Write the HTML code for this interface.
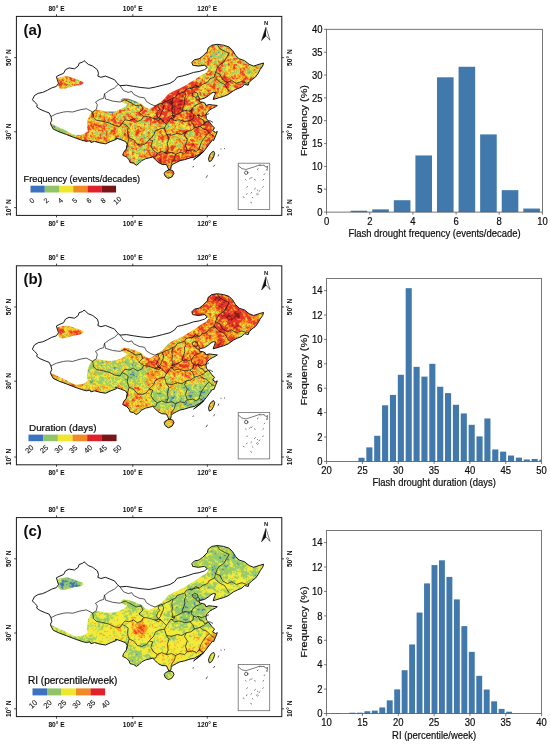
<!DOCTYPE html>
<html><head><meta charset="utf-8"><title>Flash drought characteristics over China</title>
<style>
html,body{margin:0;padding:0;background:#fff}
svg{display:block}
text{font-family:"Liberation Sans",sans-serif;fill:#1a1a1a}
.mt{font-size:6.6px;font-weight:bold;text-anchor:middle;fill:#0a0a0a}
.pl{font-size:15px;font-weight:bold;fill:#0c0c0c}
.cn{font-size:5.8px;font-weight:bold;text-anchor:middle;fill:#111}
.lt{font-size:9.2px;fill:#0c0c0c;stroke:#0c0c0c;stroke-width:.22px}
.ll{font-size:7.1px;text-anchor:middle;fill:#111;stroke:#111;stroke-width:.1px}
.tk{font-size:10.5px;fill:#0c0c0c;stroke:#0c0c0c;stroke-width:.2px}
.al{font-size:10.9px;fill:#0c0c0c;stroke:#0c0c0c;stroke-width:.2px}
</style></head><body>
<svg width="550" height="747" viewBox="0 0 550 747">
<defs>
<path id="outline" d="M32.4 99.7 L34.5 95.5 L38.2 93.3 L42.7 92.4 L47.3 90.3 L51.8 87.9 L56.4 86.4 L58.5 83.3 L57.3 79.7 L56.4 76.6 L59.1 75.2 L63.6 73.3 L65.5 69.7 L69.1 67.9 L74.5 68.8 L78.2 66.1 L79.1 63.3 L82.7 62.1 L84.0 60.6 L85.8 62.1 L88.2 64.3 L92.7 66.1 L97.3 69.7 L98.5 73.3 L97.8 76.1 L100.9 77.3 L105.5 76.1 L110.0 77.9 L114.5 79.7 L117.3 83.3 L120.0 85.7 L126.4 85.2 L133.6 86.4 L140.9 87.5 L149.1 88.3 L155.5 87.0 L162.7 85.2 L170.0 83.3 L174.5 80.6 L177.3 77.0 L181.8 76.1 L188.2 74.3 L193.6 72.4 L199.1 71.5 L204.5 69.7 L207.3 67.5 L204.5 65.2 L198.2 66.1 L192.7 65.2 L191.8 62.4 L194.5 59.7 L199.1 58.8 L202.7 56.1 L207.3 51.5 L208.2 47.9 L211.8 45.2 L217.3 44.3 L223.6 45.2 L229.1 47.0 L232.7 50.6 L235.5 55.2 L239.1 58.8 L244.5 60.6 L249.1 64.3 L253.6 66.1 L259.1 64.3 L263.6 63.0 L262.7 66.1 L260.0 69.7 L258.2 73.3 L255.5 77.0 L251.8 79.7 L249.1 82.4 L248.2 85.2 L244.5 84.3 L241.8 87.0 L237.3 88.8 L233.6 90.6 L228.2 94.5 L223.6 96.4 L219.1 97.7 L215.5 98.8 L213.2 99.5 L213.8 97.3 L215.0 94.5 L215.5 92.7 L213.2 92.3 L210.9 93.6 L208.2 95.9 L204.5 98.2 L200.9 99.1 L199.1 100.0 L199.5 101.8 L202.7 102.3 L205.0 103.2 L205.9 105.5 L209.1 104.5 L212.7 105.0 L217.3 105.5 L215.5 106.8 L212.7 108.2 L209.5 110.0 L207.3 112.3 L205.9 115.0 L206.4 118.8 L209.1 121.5 L211.8 125.2 L214.5 127.9 L212.7 130.6 L215.5 132.4 L217.3 131.5 L215.5 136.1 L213.6 140.6 L212.7 139.7 L209.1 144.3 L206.4 147.9 L203.6 151.5 L200.9 154.3 L197.3 157.0 L193.6 159.7 L203.6 151.5 L199.1 154.3 L194.5 157.0 L190.0 157.9 L184.5 159.7 L180.0 160.6 L176.4 162.4 L172.7 164.3 L171.3 166.0 L170.7 169.2 L168.9 170.0 L167.6 167.0 L166.4 164.6 L161.8 164.3 L158.2 162.4 L155.5 159.7 L152.7 157.0 L149.1 157.9 L145.5 158.8 L141.8 160.6 L139.1 163.3 L136.4 165.2 L133.6 163.3 L130.0 162.4 L129.1 159.7 L126.4 157.0 L122.7 155.2 L123.6 152.4 L126.4 148.8 L127.3 144.3 L125.5 141.5 L120.9 139.7 L115.5 137.9 L116.4 139.3 L110.9 141.4 L105.5 143.8 L100.0 142.9 L94.5 141.4 L90.9 142.5 L90.0 140.7 L86.4 141.4 L81.8 140.2 L76.4 138.3 L73.6 137.3 L66.4 134.5 L59.1 131.8 L53.2 129.0 L50.9 124.7 L50.5 122.9 L51.8 120.2 L50.9 116.5 L49.1 112.9 L45.5 111.6 L40.0 109.3 L36.7 106.9 L37.3 104.7 L34.5 102.0Z M213.6 151.2 L214.7 153.3 L213.6 157.0 L211.5 160.6 L209.3 161.7 L208.5 158.8 L209.6 155.2 L211.5 152.4Z M165.5 171.5 L169.1 169.7 L172.7 170.6 L174.0 173.3 L171.8 177.0 L168.2 178.4 L165.1 176.1 L164.2 173.3Z" fill="none" stroke="#0c0c14" stroke-width=".95" stroke-linejoin="round"/>
<clipPath id="clipcol"><path d="M50.5 122.9 L52.7 124.3 L57.3 126.7 L64.5 129.8 L70.9 133.4 L75.5 135.3 L82.7 134.5 L87.6 131.5 L87.0 127.0 L87.9 118.5 L91.5 111.9 L95.2 109.7 L99.5 110.0 L105.4 111.2 L111.2 111.6 L116.3 110.9 L120.6 109.0 L125.0 106.8 L127.2 104.6 L124.3 103.2 L121.4 101.7 L120.6 99.5 L123.5 98.4 L128.6 98.8 L133.0 100.3 L137.4 101.7 L141.7 103.9 L144.6 106.8 L149.0 109.0 L153.4 106.8 L157.7 103.9 L162.1 101.0 L168.2 94.3 L172.7 91.5 L179.1 88.8 L184.5 86.1 L190.0 82.4 L195.5 79.2 L200.9 75.2 L206.4 72.4 L208.5 68.8 L207.3 67.5 L204.5 65.2 L198.2 66.1 L192.7 65.2 L191.8 62.4 L194.5 59.7 L199.1 58.8 L202.7 56.1 L207.3 51.5 L208.2 47.9 L211.8 45.2 L217.3 44.3 L223.6 45.2 L229.1 47.0 L232.7 50.6 L235.5 55.2 L239.1 58.8 L244.5 60.6 L249.1 64.3 L253.6 66.1 L259.1 64.3 L263.6 63.0 L262.7 66.1 L260.0 69.7 L258.2 73.3 L255.5 77.0 L251.8 79.7 L249.1 82.4 L248.2 85.2 L244.5 84.3 L241.8 87.0 L237.3 88.8 L233.6 90.6 L228.2 94.5 L223.6 96.4 L219.1 97.7 L215.5 98.8 L213.2 99.5 L213.8 97.3 L215.0 94.5 L215.5 92.7 L213.2 92.3 L210.9 93.6 L208.2 95.9 L204.5 98.2 L200.9 99.1 L199.1 100.0 L199.5 101.8 L202.7 102.3 L205.0 103.2 L205.9 105.5 L209.1 104.5 L212.7 105.0 L217.3 105.5 L215.5 106.8 L212.7 108.2 L209.5 110.0 L207.3 112.3 L205.9 115.0 L206.4 118.8 L209.1 121.5 L211.8 125.2 L214.5 127.9 L212.7 130.6 L215.5 132.4 L217.3 131.5 L215.5 136.1 L213.6 140.6 L212.7 139.7 L209.1 144.3 L206.4 147.9 L203.6 151.5 L200.9 154.3 L197.3 157.0 L193.6 159.7 L203.6 151.5 L199.1 154.3 L194.5 157.0 L190.0 157.9 L184.5 159.7 L180.0 160.6 L176.4 162.4 L172.7 164.3 L171.3 166.0 L170.7 169.2 L168.9 170.0 L167.6 167.0 L166.4 164.6 L161.8 164.3 L158.2 162.4 L155.5 159.7 L152.7 157.0 L149.1 157.9 L145.5 158.8 L141.8 160.6 L139.1 163.3 L136.4 165.2 L133.6 163.3 L130.0 162.4 L129.1 159.7 L126.4 157.0 L122.7 155.2 L123.6 152.4 L126.4 148.8 L127.3 144.3 L125.5 141.5 L120.9 139.7 L115.5 137.9 L116.4 139.3 L110.9 141.4 L105.5 143.8 L100.0 142.9 L94.5 141.4 L90.9 142.5 L90.0 140.7 L86.4 141.4 L81.8 140.2 L76.4 138.3 L73.6 137.3 L66.4 134.5 L59.1 131.8 L53.2 129.0 L50.9 124.7 L50.5 122.9Z M57.3 77.9 L60.9 77.0 L67.3 76.1 L72.7 77.9 L78.2 79.7 L82.7 81.5 L83.6 83.3 L80.0 85.2 L74.5 86.1 L69.1 87.5 L64.5 88.8 L60.0 88.8 L58.2 86.1 L58.5 83.3 L57.3 79.7Z M213.6 151.2 L214.7 153.3 L213.6 157.0 L211.5 160.6 L209.3 161.7 L208.5 158.8 L209.6 155.2 L211.5 152.4Z M165.5 171.5 L169.1 169.7 L172.7 170.6 L174.0 173.3 L171.8 177.0 L168.2 178.4 L165.1 176.1 L164.2 173.3Z"/></clipPath>
<g id="prov" fill="none" stroke="#111" stroke-width=".7" stroke-linejoin="round"><path d="M217.3 44.6 L220.0 48.8 L225.5 51.5 L229.1 53.3 L226.4 57.9 L223.6 62.4 L219.1 65.2 L217.3 67.9 L215.5 72.4 M215.5 72.4 L220.0 74.3 L222.7 79.7 L227.3 82.4 L231.8 80.6 L236.4 83.3 L241.8 81.5 L246.4 83.3 L249.1 82.4 M215.5 72.4 L214.5 77.0 L210.0 78.8 L207.3 82.4 L202.7 84.3 L199.1 87.0 L195.5 85.2 L191.8 88.8 L189.3 88.2 M214.5 77.0 L219.1 81.5 L224.5 84.3 L227.3 88.8 L229.1 91.5 M159.3 104.0 L162.0 103.4 L165.3 101.8 L169.1 100.2 L171.8 98.5 L175.6 96.9 L177.3 94.2 L180.5 93.1 L184.4 92.0 L186.0 89.3 L189.3 88.2 L193.6 87.6 L196.9 86.5 L199.1 87.0 M172.9 98.5 L171.8 102.3 L172.4 106.7 L171.8 110.5 L172.9 113.8 L171.8 116.0 M184.9 92.0 L186.0 95.3 L184.4 98.5 L184.9 101.8 L183.8 105.6 L182.2 109.4 L182.7 111.1 L179.4 113.2 L175.6 114.9 L171.8 116.0 M182.7 111.1 L186.0 110.5 L189.8 111.1 L192.0 109.4 L193.6 106.7 L196.9 104.5 L200.2 103.4 L202.3 102.2 M192.0 109.4 L191.4 112.7 L193.6 114.9 L196.4 116.0 L198.0 114.9 L201.3 116.5 L204.5 115.4 L207.8 114.3 L209.0 113.4 M193.6 114.9 L193.1 118.7 L190.0 120.6 L192.7 123.3 L194.5 127.9 M171.8 116.0 L175.1 116.5 L172.5 118.3 L170.9 117.9 M192.0 93.6 L194.7 92.0 L197.4 93.1 L198.0 95.8 L199.6 98.0 L198.5 100.2 L196.4 99.1 L195.8 97.4 L193.1 96.3 L192.0 93.6 M195.8 97.4 L198.0 95.8 M159.3 104.0 L158.2 106.7 L159.8 109.4 L157.6 111.6 L156.5 114.9 L158.2 117.6 L160.4 115.4 L161.5 112.2 L163.1 109.4 L163.6 106.2 L162.0 103.4 M158.2 117.6 L160.9 118.7 L158.5 120.3 L154.5 118.8 M122.0 123.2 L125.5 124.8 L128.2 127.0 L127.3 132.4 L129.1 137.9 L127.3 144.3 L126.4 148.8 M122.0 123.2 L125.0 119.8 L129.1 120.6 L133.6 118.8 L137.3 121.5 L141.8 119.7 L143.6 116.1 L149.1 117.0 L154.5 118.8 L160.0 117.9 L166.4 124.3 M129.1 137.9 L133.6 139.7 L137.3 144.3 L141.8 145.2 L146.4 143.3 L149.1 139.7 L152.7 140.6 M149.1 139.7 L153.6 135.2 L155.5 130.6 L160.0 128.8 L164.5 127.9 L166.4 124.3 M152.7 140.6 L150.9 146.1 L153.6 150.6 L157.3 153.3 L155.5 157.0 L152.7 157.0 M157.3 153.3 L161.8 151.5 L166.4 153.3 L168.2 148.8 L167.3 143.3 L169.1 137.9 L166.4 134.3 L164.5 127.9 M166.4 153.3 L171.8 152.4 L175.5 154.3 L180.0 152.4 L184.5 153.3 L187.3 150.6 M175.5 154.3 L174.5 158.8 L171.8 162.4 L170.9 165.7 M187.3 150.6 L185.5 145.2 L187.3 139.7 L184.5 135.2 L186.4 131.5 M166.4 134.3 L171.8 135.2 L177.3 133.3 L181.8 134.3 L186.4 131.5 M187.3 150.6 L192.7 149.7 L196.4 151.5 L199.1 148.8 L203.6 151.5 M199.1 148.8 L200.9 143.3 L203.6 138.8 L206.4 135.2 L209.1 132.4 L212.0 135.3 L214.5 136.3 M209.1 132.4 L206.4 129.7 L202.7 128.8 L200.0 126.1 L203.6 124.3 L207.3 121.5 L210.0 120.6 L213.0 122.4 M186.4 131.5 L190.9 130.6 L194.5 127.9 L200.0 126.1 M190.0 120.6 L184.5 121.5 L179.1 119.7 L174.5 120.6 L170.9 117.9 L169.1 120.6 L166.4 124.3 M198.0 114.9 L199.5 118.3 L203.0 119.8 L204.5 122.3 L207.3 121.5 M92.7 112.0 L93.6 117.4 L96.4 120.2 L101.8 121.1 L109.1 122.9 L114.5 125.6 L120.0 126.5 L122.0 123.2 M104.5 93.8 L105.5 98.9 L112.7 101.1 L120.0 102.0 L125.0 99.8 L131.0 102.8 L136.0 105.8 L141.0 104.8 L143.0 108.8 L139.0 112.8 L143.6 116.1 M50.9 116.5 L56.4 113.8 L63.6 112.0 L67.3 111.6 L72.7 112.0 L80.0 109.8 L86.4 108.7 L92.7 112.0 M92.7 112.0 L96.4 109.3 L97.3 104.7 L95.5 102.0 L100.0 99.3 L103.6 98.3 L104.5 93.8 M118.2 84.3 L114.5 87.9 L109.1 90.6 L105.5 93.3 L104.5 93.8 M120.0 85.7 L123.6 90.6 L128.2 92.4 L131.8 91.5 L133.6 94.3 L139.1 97.0 L144.5 97.9 L146.4 101.5 L150.9 104.3 L155.0 105.8 L159.3 104.0 M218.0 156.3 L218.8 154.3 M213.5 166.8 L214.8 164.8 M206.0 177.8 L207.5 175.3 M192.5 167.0 L194.0 166.4 M220.5 148.8 L221.5 149.2 M224.0 148.4 L225.0 148.8"/></g>
<g id="inset" fill="none" stroke="#222" stroke-linecap="round"><path d="M238.6 165.9 L241.8 168.6 L245.9 169.5 L250.0 168.2 L254.5 166.8 L260.0 164.8 M259.5 165.5L264 165.2 M264.1 165.5l2.3 1.8l.9-1.4l.2 2.8l-1 1.4 M245.5 179.5l0.6 0.5 M249.5 178.8l0.9 -0.8 M251.4 178.2l0.6 -0.8 M254.4 179.4l0.9 0.5 M246.8 187.3l0.6 -0.8 M254.5 189.1l0.9 -0.8 M257.3 190.0l0.6 0.5 M259.1 191.4l0.9 -0.8 M262.7 187.3l0.6 -0.8 M243.2 196.8l0.9 0.5 M246.4 194.5l0.6 -0.8 M250.9 193.2l0.9 -0.8 M252.3 197.3l0.6 0.5 M256.4 194.1l0.9 -0.8 M257.7 195.0l0.6 -0.8 M250.7 202.3l0.9 0.5 M264.1 174.5l0.6 -0.8 M262.9 180.0l0.9 -0.8 M266.8 169.5l0.6 0.5 M257.3 169.5l0.9 -0.8" stroke-width=".6"/><circle cx="246.2" cy="172.7" r="1.7" stroke-width=".7"/></g>
<filter id="fa" filterUnits="userSpaceOnUse" x="0" y="0" width="300" height="747" color-interpolation-filters="sRGB">
<feTurbulence type="fractalNoise" baseFrequency="0.5" numOctaves="2" seed="3" result="n"/>
<feColorMatrix in="n" type="matrix" values="1 0 0 0 0  1 0 0 0 0  1 0 0 0 0  0 0 0 0 1" result="ng"/>
<feTurbulence type="fractalNoise" baseFrequency="0.17" numOctaves="2" seed="23" result="m"/>
<feColorMatrix in="m" type="matrix" values="0 1 0 0 0  0 1 0 0 0  0 1 0 0 0  0 0 0 0 1" result="mg"/>
<feGaussianBlur in="SourceGraphic" stdDeviation="3" result="base"/>
<feComposite in="base" in2="mg" operator="arithmetic" k1="0" k2="1" k3="0.75" k4="-0.375" result="s1"/>
<feComposite in="s1" in2="ng" operator="arithmetic" k1="0" k2="1" k3="1.0" k4="-0.5" result="sum"/>
<feComponentTransfer in="sum"><feFuncR type="discrete" tableValues="0.231 0.231 0.588 0.588 0.588 0.588 0.588 0.588 0.588 0.588 0.588 0.588 0.588 0.588 0.588 0.588 0.953 0.953 0.953 0.953 0.953 0.953 0.965 0.965 0.965 0.965 0.965 0.965 0.965 0.914 0.914 0.914 0.914 0.914 0.914 0.914 0.914 0.914 0.914 0.914 0.914 0.914 0.914 0.914 0.541 0.541 0.541 0.541 0.541 0.541"/><feFuncG type="discrete" tableValues="0.435 0.435 0.796 0.796 0.796 0.796 0.796 0.796 0.796 0.796 0.796 0.796 0.796 0.796 0.796 0.796 0.925 0.925 0.925 0.925 0.925 0.925 0.596 0.596 0.596 0.596 0.596 0.596 0.596 0.200 0.200 0.200 0.200 0.200 0.200 0.200 0.200 0.200 0.200 0.200 0.200 0.200 0.200 0.200 0.102 0.102 0.102 0.102 0.102 0.102"/><feFuncB type="discrete" tableValues="0.761 0.761 0.416 0.416 0.416 0.416 0.416 0.416 0.416 0.416 0.416 0.416 0.416 0.416 0.416 0.416 0.220 0.220 0.220 0.220 0.220 0.220 0.122 0.122 0.122 0.122 0.122 0.122 0.122 0.165 0.165 0.165 0.165 0.165 0.165 0.165 0.165 0.165 0.165 0.165 0.165 0.165 0.165 0.165 0.094 0.094 0.094 0.094 0.094 0.094"/><feFuncA type="linear" slope="0" intercept="1"/></feComponentTransfer>
<feConvolveMatrix order="3" kernelMatrix="1 2 1 2 16 2 1 2 1" edgeMode="duplicate" preserveAlpha="true"/>
</filter>
<filter id="fb" filterUnits="userSpaceOnUse" x="0" y="0" width="300" height="747" color-interpolation-filters="sRGB">
<feTurbulence type="fractalNoise" baseFrequency="0.5" numOctaves="2" seed="7" result="n"/>
<feColorMatrix in="n" type="matrix" values="1 0 0 0 0  1 0 0 0 0  1 0 0 0 0  0 0 0 0 1" result="ng"/>
<feTurbulence type="fractalNoise" baseFrequency="0.17" numOctaves="2" seed="27" result="m"/>
<feColorMatrix in="m" type="matrix" values="0 1 0 0 0  0 1 0 0 0  0 1 0 0 0  0 0 0 0 1" result="mg"/>
<feGaussianBlur in="SourceGraphic" stdDeviation="3" result="base"/>
<feComposite in="base" in2="mg" operator="arithmetic" k1="0" k2="1" k3="0.62" k4="-0.31" result="s1"/>
<feComposite in="s1" in2="ng" operator="arithmetic" k1="0" k2="1" k3="0.78" k4="-0.39" result="sum"/>
<feComponentTransfer in="sum"><feFuncR type="discrete" tableValues="0.231 0.588 0.588 0.588 0.588 0.588 0.588 0.588 0.588 0.588 0.588 0.588 0.588 0.588 0.588 0.953 0.953 0.953 0.953 0.953 0.953 0.953 0.965 0.965 0.965 0.965 0.965 0.965 0.965 0.965 0.914 0.914 0.914 0.914 0.914 0.914 0.914 0.914 0.914 0.914 0.914 0.914 0.914 0.541 0.541 0.541 0.541 0.541 0.541 0.541"/><feFuncG type="discrete" tableValues="0.435 0.796 0.796 0.796 0.796 0.796 0.796 0.796 0.796 0.796 0.796 0.796 0.796 0.796 0.796 0.925 0.925 0.925 0.925 0.925 0.925 0.925 0.596 0.596 0.596 0.596 0.596 0.596 0.596 0.596 0.200 0.200 0.200 0.200 0.200 0.200 0.200 0.200 0.200 0.200 0.200 0.200 0.200 0.102 0.102 0.102 0.102 0.102 0.102 0.102"/><feFuncB type="discrete" tableValues="0.761 0.416 0.416 0.416 0.416 0.416 0.416 0.416 0.416 0.416 0.416 0.416 0.416 0.416 0.416 0.220 0.220 0.220 0.220 0.220 0.220 0.220 0.122 0.122 0.122 0.122 0.122 0.122 0.122 0.122 0.165 0.165 0.165 0.165 0.165 0.165 0.165 0.165 0.165 0.165 0.165 0.165 0.165 0.094 0.094 0.094 0.094 0.094 0.094 0.094"/><feFuncA type="linear" slope="0" intercept="1"/></feComponentTransfer>
<feConvolveMatrix order="3" kernelMatrix="1 2 1 2 16 2 1 2 1" edgeMode="duplicate" preserveAlpha="true"/>
</filter>
<filter id="fc" filterUnits="userSpaceOnUse" x="0" y="0" width="300" height="747" color-interpolation-filters="sRGB">
<feTurbulence type="fractalNoise" baseFrequency="0.5" numOctaves="2" seed="11" result="n"/>
<feColorMatrix in="n" type="matrix" values="1 0 0 0 0  1 0 0 0 0  1 0 0 0 0  0 0 0 0 1" result="ng"/>
<feTurbulence type="fractalNoise" baseFrequency="0.17" numOctaves="2" seed="31" result="m"/>
<feColorMatrix in="m" type="matrix" values="0 1 0 0 0  0 1 0 0 0  0 1 0 0 0  0 0 0 0 1" result="mg"/>
<feGaussianBlur in="SourceGraphic" stdDeviation="3" result="base"/>
<feComposite in="base" in2="mg" operator="arithmetic" k1="0" k2="1" k3="0.45" k4="-0.225" result="s1"/>
<feComposite in="s1" in2="ng" operator="arithmetic" k1="0" k2="1" k3="0.5" k4="-0.25" result="sum"/>
<feComponentTransfer in="sum"><feFuncR type="discrete" tableValues="0.231 0.231 0.231 0.231 0.588 0.588 0.588 0.588 0.588 0.588 0.588 0.588 0.588 0.588 0.588 0.953 0.953 0.953 0.953 0.953 0.953 0.953 0.953 0.953 0.953 0.953 0.965 0.965 0.965 0.965 0.965 0.965 0.965 0.914 0.914 0.914 0.914 0.914 0.914 0.914 0.914 0.914 0.914 0.914 0.914 0.914 0.914 0.914 0.914 0.914"/><feFuncG type="discrete" tableValues="0.435 0.435 0.435 0.435 0.796 0.796 0.796 0.796 0.796 0.796 0.796 0.796 0.796 0.796 0.796 0.925 0.925 0.925 0.925 0.925 0.925 0.925 0.925 0.925 0.925 0.925 0.596 0.596 0.596 0.596 0.596 0.596 0.596 0.200 0.200 0.200 0.200 0.200 0.200 0.200 0.200 0.200 0.200 0.200 0.200 0.200 0.200 0.200 0.200 0.200"/><feFuncB type="discrete" tableValues="0.761 0.761 0.761 0.761 0.416 0.416 0.416 0.416 0.416 0.416 0.416 0.416 0.416 0.416 0.416 0.220 0.220 0.220 0.220 0.220 0.220 0.220 0.220 0.220 0.220 0.220 0.122 0.122 0.122 0.122 0.122 0.122 0.122 0.165 0.165 0.165 0.165 0.165 0.165 0.165 0.165 0.165 0.165 0.165 0.165 0.165 0.165 0.165 0.165 0.165"/><feFuncA type="linear" slope="0" intercept="1"/></feComponentTransfer>
<feConvolveMatrix order="3" kernelMatrix="1 2 1 2 16 2 1 2 1" edgeMode="duplicate" preserveAlpha="true"/>
</filter>
</defs>
<rect width="550" height="747" fill="#fff"/>
<g transform="translate(0 0)">
<g clip-path="url(#clipcol)"><g filter="url(#fa)"><rect x="0" y="0" width="300" height="230" fill="rgb(115,115,115)"/><ellipse cx="109" cy="129" rx="18" ry="11" fill="rgb(120,120,120)"/><ellipse cx="88.5" cy="128" rx="3.5" ry="8" fill="rgb(163,163,163)"/><ellipse cx="132.7" cy="106" rx="12" ry="6" fill="rgb(92,92,92)"/><ellipse cx="149" cy="134.5" rx="10" ry="9" fill="rgb(92,92,92)"/><ellipse cx="134.5" cy="156" rx="10" ry="8" fill="rgb(97,97,97)"/><ellipse cx="174.5" cy="158" rx="24" ry="7" fill="rgb(163,163,163)"/><ellipse cx="178" cy="149" rx="8" ry="6" fill="rgb(102,102,102)"/><ellipse cx="192.7" cy="149" rx="8" ry="7" fill="rgb(153,153,153)"/><ellipse cx="203.6" cy="149" rx="6" ry="7" fill="rgb(133,133,133)"/><ellipse cx="181.8" cy="132.7" rx="11" ry="7" fill="rgb(102,102,102)"/><ellipse cx="189" cy="118" rx="9" ry="7" fill="rgb(163,163,163)"/><ellipse cx="201.8" cy="124.4" rx="8" ry="6" fill="rgb(178,178,178)"/><ellipse cx="209" cy="127" rx="4" ry="6" fill="rgb(199,199,199)"/><ellipse cx="205.5" cy="109" rx="8" ry="5" fill="rgb(128,128,128)"/><ellipse cx="193.5" cy="99" rx="7" ry="7" fill="rgb(120,120,120)"/><ellipse cx="172.7" cy="103.6" rx="12" ry="12" fill="rgb(199,199,199)"/><ellipse cx="161.8" cy="118" rx="10" ry="8" fill="rgb(153,153,153)"/><ellipse cx="185.5" cy="87" rx="14" ry="8" fill="rgb(163,163,163)"/><ellipse cx="214.5" cy="94.5" rx="8" ry="5" fill="rgb(117,117,117)"/><ellipse cx="232.7" cy="83.6" rx="12" ry="7" fill="rgb(138,138,138)"/><ellipse cx="236.4" cy="67" rx="12" ry="8" fill="rgb(107,107,107)"/><ellipse cx="227" cy="63.6" rx="5" ry="4" fill="rgb(153,153,153)"/><ellipse cx="218" cy="54.5" rx="11" ry="7" fill="rgb(76,76,76)"/><ellipse cx="254.5" cy="69" rx="8" ry="5" fill="rgb(87,87,87)"/><ellipse cx="165.5" cy="143.6" rx="8" ry="6" fill="rgb(115,115,115)"/><ellipse cx="150" cy="108" rx="9" ry="6" fill="rgb(148,148,148)"/><ellipse cx="82" cy="140" rx="14" ry="5" fill="rgb(122,122,122)" transform="rotate(20 82 140)"/><ellipse cx="62" cy="130.5" rx="13" ry="4" fill="rgb(31,31,31)" transform="rotate(22 62 130.5)"/><ellipse cx="70" cy="82" rx="13" ry="6" fill="rgb(122,122,122)"/></g></g>
<path d="M122 99L129 99.4L133.6 101.2L137 102.8M109 112.2L113.5 112.5" fill="none" stroke="#3a6cc4" stroke-width="0.9"/>
<use href="#prov"/>
<use href="#outline"/>
<rect x="16.4" y="16.4" width="265.4" height="199" fill="none" stroke="#1a1a1a" stroke-width="1"/>
<path d="M56.5 16.4v-2.2M56.5 215.2v2.2" stroke="#1a1a1a" stroke-width=".8"/>
<text x="56.5" y="10.6" class="mt">80° E</text>
<text x="56.5" y="225.6" class="mt">80° E</text>
<path d="M132.8 16.4v-2.2M132.8 215.2v2.2" stroke="#1a1a1a" stroke-width=".8"/>
<text x="132.8" y="10.6" class="mt">100° E</text>
<text x="132.8" y="225.6" class="mt">100° E</text>
<path d="M207.3 16.4v-2.2M207.3 215.2v2.2" stroke="#1a1a1a" stroke-width=".8"/>
<text x="207.3" y="10.6" class="mt">120° E</text>
<text x="207.3" y="225.6" class="mt">120° E</text>
<path d="M16.4 57.6h-2.2M281.8 57.6h2.2" stroke="#1a1a1a" stroke-width=".8"/>
<text transform="translate(10.6 57.6) rotate(-90)" class="mt">50° N</text>
<text transform="translate(292.4 57.6) rotate(-90)" class="mt">50° N</text>
<path d="M16.4 131.8h-2.2M281.8 131.8h2.2" stroke="#1a1a1a" stroke-width=".8"/>
<text transform="translate(10.6 131.8) rotate(-90)" class="mt">30° N</text>
<text transform="translate(292.4 131.8) rotate(-90)" class="mt">30° N</text>
<path d="M16.4 207.6h-2.2M281.8 207.6h2.2" stroke="#1a1a1a" stroke-width=".8"/>
<text transform="translate(10.6 207.6) rotate(-90)" class="mt">10° N</text>
<text transform="translate(292.4 207.6) rotate(-90)" class="mt">10° N</text>
<text x="23.4" y="35" class="pl">(a)</text>
<text x="266" y="25.3" class="cn">N</text>
<path d="M265.9 27.3L261.6 40.5L266.1 35.8L270 40.2Z" fill="#fff" stroke="#111" stroke-width=".55" stroke-linejoin="round"/><path d="M265.9 27.3L266.1 35.8L261.6 40.5Z" fill="#111"/>
<text x="23.6" y="182" class="lt" style="font-size:9.2px">Frequency (events/decades)</text>
<rect x="30.50" y="185.7" width="14.30" height="6.8" fill="#3d72c0"/>
<rect x="44.75" y="185.7" width="14.30" height="6.8" fill="#8fc468"/>
<rect x="59.00" y="185.7" width="14.30" height="6.8" fill="#f0e62e"/>
<rect x="73.25" y="185.7" width="14.30" height="6.8" fill="#f08a24"/>
<rect x="87.50" y="185.7" width="14.30" height="6.8" fill="#e0202a"/>
<rect x="101.75" y="185.7" width="14.30" height="6.8" fill="#7a1618"/>
<text transform="translate(33.5 202.3) rotate(-42)" class="ll" style="font-size:7.2px">0</text>
<text transform="translate(47.8 202.3) rotate(-42)" class="ll" style="font-size:7.2px">2</text>
<text transform="translate(62.0 202.3) rotate(-42)" class="ll" style="font-size:7.2px">4</text>
<text transform="translate(76.2 202.3) rotate(-42)" class="ll" style="font-size:7.2px">5</text>
<text transform="translate(90.5 202.3) rotate(-42)" class="ll" style="font-size:7.2px">6</text>
<text transform="translate(104.8 202.3) rotate(-42)" class="ll" style="font-size:7.2px">8</text>
<text transform="translate(119.0 202.3) rotate(-42)" class="ll" style="font-size:7.2px">10</text>
<rect x="238.2" y="163.2" width="31.5" height="46.3" fill="#fff" stroke="#6e6e6e" stroke-width=".8"/>
<use href="#inset"/>
</g>
<g transform="translate(0 249.4)">
<g clip-path="url(#clipcol)"><g filter="url(#fb)"><rect x="0" y="0" width="300" height="230" fill="rgb(107,107,107)"/><ellipse cx="226" cy="66" rx="34" ry="26" fill="rgb(153,153,153)"/><ellipse cx="233.6" cy="66.5" rx="9" ry="7" fill="rgb(224,224,224)"/><ellipse cx="219" cy="51" rx="7" ry="5" fill="rgb(194,194,194)"/><ellipse cx="225" cy="58" rx="6" ry="5" fill="rgb(184,184,184)"/><ellipse cx="212" cy="65" rx="5" ry="5" fill="rgb(102,102,102)"/><ellipse cx="248" cy="74" rx="5" ry="5" fill="rgb(107,107,107)"/><ellipse cx="241" cy="83" rx="4" ry="4" fill="rgb(87,87,87)"/><ellipse cx="254" cy="68" rx="7" ry="5" fill="rgb(153,153,153)"/><ellipse cx="236" cy="76" rx="5" ry="4" fill="rgb(184,184,184)"/><ellipse cx="221" cy="97" rx="10" ry="6" fill="rgb(153,153,153)"/><ellipse cx="206" cy="90" rx="9" ry="8" fill="rgb(128,128,128)"/><ellipse cx="196" cy="89" rx="14" ry="8" fill="rgb(128,128,128)"/><ellipse cx="196" cy="108" rx="12" ry="7" fill="rgb(148,148,148)"/><ellipse cx="174" cy="104" rx="12" ry="9" fill="rgb(122,122,122)"/><ellipse cx="153" cy="109" rx="10" ry="7" fill="rgb(153,153,153)"/><ellipse cx="108" cy="124" rx="24" ry="15" fill="rgb(76,76,76)"/><ellipse cx="116" cy="119" rx="18" ry="10" fill="rgb(74,74,74)"/><ellipse cx="102" cy="133" rx="14" ry="7" fill="rgb(76,76,76)"/><ellipse cx="135" cy="124" rx="11" ry="12" fill="rgb(51,51,51)"/><ellipse cx="127" cy="111" rx="8" ry="5" fill="rgb(76,76,76)"/><ellipse cx="156" cy="127" rx="6" ry="6" fill="rgb(115,115,115)"/><ellipse cx="160" cy="150" rx="12" ry="10" fill="rgb(56,56,56)"/><ellipse cx="186" cy="148" rx="24" ry="13" fill="rgb(51,51,51)"/><ellipse cx="178" cy="142" rx="5" ry="5" fill="rgb(84,84,84)"/><ellipse cx="208" cy="138" rx="7" ry="9" fill="rgb(51,51,51)"/><ellipse cx="136" cy="152" rx="10" ry="9" fill="rgb(122,122,122)"/><ellipse cx="124" cy="153" rx="3" ry="4" fill="rgb(178,178,178)"/><ellipse cx="150" cy="116" rx="8" ry="5" fill="rgb(153,153,153)"/><ellipse cx="162" cy="118.5" rx="8" ry="4" fill="rgb(153,153,153)"/><ellipse cx="176" cy="121" rx="8" ry="4.5" fill="rgb(153,153,153)"/><ellipse cx="188" cy="118" rx="9" ry="6" fill="rgb(168,168,168)"/><ellipse cx="200" cy="113" rx="8" ry="5" fill="rgb(153,153,153)"/><ellipse cx="171" cy="127.5" rx="6" ry="4" fill="rgb(97,97,97)"/><ellipse cx="205" cy="126" rx="6" ry="5" fill="rgb(82,82,82)"/><ellipse cx="168" cy="165" rx="14" ry="4" fill="rgb(102,102,102)"/><ellipse cx="80" cy="140" rx="16" ry="5" fill="rgb(128,128,128)" transform="rotate(20 80 140)"/><ellipse cx="70" cy="82" rx="13" ry="6" fill="rgb(153,153,153)"/><ellipse cx="169" cy="175" rx="5" ry="4" fill="rgb(115,115,115)"/></g></g>

<use href="#prov"/>
<use href="#outline"/>
<rect x="16.4" y="16.4" width="265.4" height="199" fill="none" stroke="#1a1a1a" stroke-width="1"/>
<path d="M56.5 16.4v-2.2M56.5 215.2v2.2" stroke="#1a1a1a" stroke-width=".8"/>
<text x="56.5" y="10.6" class="mt">80° E</text>
<text x="56.5" y="225.6" class="mt">80° E</text>
<path d="M132.8 16.4v-2.2M132.8 215.2v2.2" stroke="#1a1a1a" stroke-width=".8"/>
<text x="132.8" y="10.6" class="mt">100° E</text>
<text x="132.8" y="225.6" class="mt">100° E</text>
<path d="M207.3 16.4v-2.2M207.3 215.2v2.2" stroke="#1a1a1a" stroke-width=".8"/>
<text x="207.3" y="10.6" class="mt">120° E</text>
<text x="207.3" y="225.6" class="mt">120° E</text>
<path d="M16.4 57.6h-2.2M281.8 57.6h2.2" stroke="#1a1a1a" stroke-width=".8"/>
<text transform="translate(10.6 57.6) rotate(-90)" class="mt">50° N</text>
<text transform="translate(292.4 57.6) rotate(-90)" class="mt">50° N</text>
<path d="M16.4 131.8h-2.2M281.8 131.8h2.2" stroke="#1a1a1a" stroke-width=".8"/>
<text transform="translate(10.6 131.8) rotate(-90)" class="mt">30° N</text>
<text transform="translate(292.4 131.8) rotate(-90)" class="mt">30° N</text>
<path d="M16.4 207.6h-2.2M281.8 207.6h2.2" stroke="#1a1a1a" stroke-width=".8"/>
<text transform="translate(10.6 207.6) rotate(-90)" class="mt">10° N</text>
<text transform="translate(292.4 207.6) rotate(-90)" class="mt">10° N</text>
<text x="23.4" y="35" class="pl">(b)</text>
<text x="266" y="25.3" class="cn">N</text>
<path d="M265.9 27.3L261.6 40.5L266.1 35.8L270 40.2Z" fill="#fff" stroke="#111" stroke-width=".55" stroke-linejoin="round"/><path d="M265.9 27.3L266.1 35.8L261.6 40.5Z" fill="#111"/>
<text x="29.0" y="182" class="lt" style="font-size:9.9px">Duration (days)</text>
<rect x="28.50" y="185.2" width="14.72" height="6.6" fill="#3d72c0"/>
<rect x="43.17" y="185.2" width="14.72" height="6.6" fill="#8fc468"/>
<rect x="57.84" y="185.2" width="14.72" height="6.6" fill="#f0e62e"/>
<rect x="72.51" y="185.2" width="14.72" height="6.6" fill="#f08a24"/>
<rect x="87.18" y="185.2" width="14.72" height="6.6" fill="#e0202a"/>
<rect x="101.85" y="185.2" width="14.72" height="6.6" fill="#7a1618"/>
<text transform="translate(31.1 201.5) rotate(-42)" class="ll" style="font-size:7.4px">20</text>
<text transform="translate(45.8 201.5) rotate(-42)" class="ll" style="font-size:7.4px">25</text>
<text transform="translate(60.4 201.5) rotate(-42)" class="ll" style="font-size:7.4px">30</text>
<text transform="translate(75.1 201.5) rotate(-42)" class="ll" style="font-size:7.4px">35</text>
<text transform="translate(89.8 201.5) rotate(-42)" class="ll" style="font-size:7.4px">40</text>
<text transform="translate(104.4 201.5) rotate(-42)" class="ll" style="font-size:7.4px">45</text>
<text transform="translate(119.1 201.5) rotate(-42)" class="ll" style="font-size:7.4px">50</text>
<rect x="238.2" y="163.2" width="31.5" height="46.3" fill="#fff" stroke="#6e6e6e" stroke-width=".8"/>
<use href="#inset"/>
</g>
<g transform="translate(0 501.2)">
<g clip-path="url(#clipcol)"><g filter="url(#fc)"><rect x="0" y="0" width="300" height="230" fill="rgb(89,89,89)"/><ellipse cx="226" cy="62" rx="26" ry="18" fill="rgb(56,56,56)"/><ellipse cx="236" cy="76" rx="12" ry="7" fill="rgb(84,84,84)"/><ellipse cx="251" cy="68" rx="8" ry="5" fill="rgb(64,64,64)"/><ellipse cx="196" cy="88" rx="14" ry="8" fill="rgb(69,69,69)"/><ellipse cx="189" cy="105" rx="18" ry="13" fill="rgb(51,51,51)"/><ellipse cx="185" cy="117" rx="8" ry="5" fill="rgb(38,38,38)"/><ellipse cx="211" cy="108" rx="6" ry="4" fill="rgb(76,76,76)"/><ellipse cx="204" cy="121" rx="8" ry="6" fill="rgb(79,79,79)"/><ellipse cx="134" cy="105" rx="14" ry="7" fill="rgb(59,59,59)"/><ellipse cx="109" cy="121" rx="16" ry="7" fill="rgb(71,71,71)"/><ellipse cx="102" cy="134" rx="12" ry="5" fill="rgb(107,107,107)"/><ellipse cx="140" cy="128" rx="7" ry="10" fill="rgb(163,163,163)"/><ellipse cx="140" cy="127" rx="3" ry="4" fill="rgb(189,189,189)"/><ellipse cx="136" cy="118" rx="3.5" ry="3.5" fill="rgb(158,158,158)"/><ellipse cx="116" cy="126" rx="10" ry="8" fill="rgb(120,120,120)"/><ellipse cx="156" cy="130" rx="10" ry="8" fill="rgb(102,102,102)"/><ellipse cx="134" cy="153" rx="9" ry="8" fill="rgb(64,64,64)"/><ellipse cx="164" cy="152" rx="12" ry="8" fill="rgb(112,112,112)"/><ellipse cx="186" cy="146" rx="14" ry="9" fill="rgb(115,115,115)"/><ellipse cx="210" cy="137" rx="4.5" ry="8" fill="rgb(163,163,163)"/><ellipse cx="203" cy="146" rx="7" ry="7" fill="rgb(138,138,138)"/><ellipse cx="178" cy="127" rx="10" ry="6" fill="rgb(79,79,79)"/><ellipse cx="80" cy="140" rx="16" ry="5" fill="rgb(66,66,66)" transform="rotate(20 80 140)"/><ellipse cx="70" cy="82" rx="13" ry="6" fill="rgb(20,20,20)"/><ellipse cx="66" cy="83" rx="6" ry="4" fill="rgb(0,0,0)"/><ellipse cx="180" cy="160" rx="20" ry="5" fill="rgb(115,115,115)"/></g></g>

<use href="#prov"/>
<use href="#outline"/>
<rect x="16.4" y="16.4" width="265.4" height="199" fill="none" stroke="#1a1a1a" stroke-width="1"/>
<path d="M56.5 16.4v-2.2M56.5 215.2v2.2" stroke="#1a1a1a" stroke-width=".8"/>
<text x="56.5" y="10.6" class="mt">80° E</text>
<text x="56.5" y="225.6" class="mt">80° E</text>
<path d="M132.8 16.4v-2.2M132.8 215.2v2.2" stroke="#1a1a1a" stroke-width=".8"/>
<text x="132.8" y="10.6" class="mt">100° E</text>
<text x="132.8" y="225.6" class="mt">100° E</text>
<path d="M207.3 16.4v-2.2M207.3 215.2v2.2" stroke="#1a1a1a" stroke-width=".8"/>
<text x="207.3" y="10.6" class="mt">120° E</text>
<text x="207.3" y="225.6" class="mt">120° E</text>
<path d="M16.4 57.6h-2.2M281.8 57.6h2.2" stroke="#1a1a1a" stroke-width=".8"/>
<text transform="translate(10.6 57.6) rotate(-90)" class="mt">50° N</text>
<text transform="translate(292.4 57.6) rotate(-90)" class="mt">50° N</text>
<path d="M16.4 131.8h-2.2M281.8 131.8h2.2" stroke="#1a1a1a" stroke-width=".8"/>
<text transform="translate(10.6 131.8) rotate(-90)" class="mt">30° N</text>
<text transform="translate(292.4 131.8) rotate(-90)" class="mt">30° N</text>
<path d="M16.4 207.6h-2.2M281.8 207.6h2.2" stroke="#1a1a1a" stroke-width=".8"/>
<text transform="translate(10.6 207.6) rotate(-90)" class="mt">10° N</text>
<text transform="translate(292.4 207.6) rotate(-90)" class="mt">10° N</text>
<text x="23.4" y="35" class="pl">(c)</text>
<text x="266" y="25.3" class="cn">N</text>
<path d="M265.9 27.3L261.6 40.5L266.1 35.8L270 40.2Z" fill="#fff" stroke="#111" stroke-width=".55" stroke-linejoin="round"/><path d="M265.9 27.3L266.1 35.8L261.6 40.5Z" fill="#111"/>
<text x="28.0" y="182.8" class="lt" style="font-size:10.05px">RI (percentile/week)</text>
<rect x="32.50" y="187.2" width="14.55" height="7.0" fill="#3d72c0"/>
<rect x="47.00" y="187.2" width="14.55" height="7.0" fill="#8fc468"/>
<rect x="61.50" y="187.2" width="14.55" height="7.0" fill="#f0e62e"/>
<rect x="76.00" y="187.2" width="14.55" height="7.0" fill="#f08a24"/>
<rect x="90.50" y="187.2" width="14.55" height="7.0" fill="#e0202a"/>
<text transform="translate(34.8 204.9) rotate(-42)" class="ll" style="font-size:7.6px">10</text>
<text transform="translate(49.3 204.9) rotate(-42)" class="ll" style="font-size:7.6px">20</text>
<text transform="translate(63.8 204.9) rotate(-42)" class="ll" style="font-size:7.6px">25</text>
<text transform="translate(78.3 204.9) rotate(-42)" class="ll" style="font-size:7.6px">30</text>
<text transform="translate(92.8 204.9) rotate(-42)" class="ll" style="font-size:7.6px">35</text>
<text transform="translate(107.3 204.9) rotate(-42)" class="ll" style="font-size:7.6px">40</text>
<rect x="238.2" y="163.2" width="31.5" height="46.3" fill="#fff" stroke="#6e6e6e" stroke-width=".8"/>
<use href="#inset"/>
</g>
<rect x="350.67" y="210.73" width="16.60" height="1.37" fill="#4279ad"/>
<rect x="372.25" y="209.36" width="16.60" height="2.74" fill="#4279ad"/>
<rect x="393.83" y="200.22" width="16.60" height="11.88" fill="#4279ad"/>
<rect x="415.41" y="155.43" width="16.60" height="56.67" fill="#4279ad"/>
<rect x="436.99" y="77.29" width="16.60" height="134.81" fill="#4279ad"/>
<rect x="458.57" y="66.77" width="16.60" height="145.33" fill="#4279ad"/>
<rect x="480.15" y="134.41" width="16.60" height="77.69" fill="#4279ad"/>
<rect x="501.73" y="190.16" width="16.60" height="21.94" fill="#4279ad"/>
<rect x="523.31" y="208.54" width="16.60" height="3.56" fill="#4279ad"/>
<rect x="326.6" y="29.3" width="215.8" height="182.8" fill="none" stroke="#555" stroke-width=".8"/>
<path d="M326.6 212.1v2.6" stroke="#444" stroke-width=".7"/>
<text transform="translate(326.6 224.9) scale(.9 1)" class="tk" text-anchor="middle">0</text>
<path d="M369.8 212.1v2.6" stroke="#444" stroke-width=".7"/>
<text transform="translate(369.8 224.9) scale(.9 1)" class="tk" text-anchor="middle">2</text>
<path d="M412.9 212.1v2.6" stroke="#444" stroke-width=".7"/>
<text transform="translate(412.9 224.9) scale(.9 1)" class="tk" text-anchor="middle">4</text>
<path d="M456.1 212.1v2.6" stroke="#444" stroke-width=".7"/>
<text transform="translate(456.1 224.9) scale(.9 1)" class="tk" text-anchor="middle">6</text>
<path d="M499.2 212.1v2.6" stroke="#444" stroke-width=".7"/>
<text transform="translate(499.2 224.9) scale(.9 1)" class="tk" text-anchor="middle">8</text>
<path d="M542.4 212.1v2.6" stroke="#444" stroke-width=".7"/>
<text transform="translate(542.4 224.9) scale(.9 1)" class="tk" text-anchor="middle">10</text>
<path d="M326.6 212.1h-2.6" stroke="#444" stroke-width=".7"/>
<text transform="translate(322.4 215.8) scale(.9 1)" class="tk" text-anchor="end">0</text>
<path d="M326.6 189.2h-2.6" stroke="#444" stroke-width=".7"/>
<text transform="translate(322.4 192.9) scale(.9 1)" class="tk" text-anchor="end">5</text>
<path d="M326.6 166.4h-2.6" stroke="#444" stroke-width=".7"/>
<text transform="translate(322.4 170.1) scale(.9 1)" class="tk" text-anchor="end">10</text>
<path d="M326.6 143.6h-2.6" stroke="#444" stroke-width=".7"/>
<text transform="translate(322.4 147.2) scale(.9 1)" class="tk" text-anchor="end">15</text>
<path d="M326.6 120.7h-2.6" stroke="#444" stroke-width=".7"/>
<text transform="translate(322.4 124.4) scale(.9 1)" class="tk" text-anchor="end">20</text>
<path d="M326.6 97.9h-2.6" stroke="#444" stroke-width=".7"/>
<text transform="translate(322.4 101.6) scale(.9 1)" class="tk" text-anchor="end">25</text>
<path d="M326.6 75.0h-2.6" stroke="#444" stroke-width=".7"/>
<text transform="translate(322.4 78.7) scale(.9 1)" class="tk" text-anchor="end">30</text>
<path d="M326.6 52.2h-2.6" stroke="#444" stroke-width=".7"/>
<text transform="translate(322.4 55.9) scale(.9 1)" class="tk" text-anchor="end">35</text>
<path d="M326.6 29.3h-2.6" stroke="#444" stroke-width=".7"/>
<text transform="translate(322.4 33.0) scale(.9 1)" class="tk" text-anchor="end">40</text>
<text transform="translate(434.5 237.1) scale(.868 1)" class="al" text-anchor="middle">Flash drought frequency (events/decade)</text>
<text transform="translate(307.4 120.7) rotate(-90) scale(1 .89)" class="al" text-anchor="middle">Frequency (%)</text>
<rect x="358.45" y="457.74" width="6.10" height="3.66" fill="#4279ad"/>
<rect x="366.32" y="447.37" width="6.10" height="14.03" fill="#4279ad"/>
<rect x="374.19" y="435.78" width="6.10" height="25.62" fill="#4279ad"/>
<rect x="382.06" y="405.28" width="6.10" height="56.12" fill="#4279ad"/>
<rect x="389.93" y="394.91" width="6.10" height="66.49" fill="#4279ad"/>
<rect x="397.80" y="374.78" width="6.10" height="86.62" fill="#4279ad"/>
<rect x="405.67" y="288.16" width="6.10" height="173.24" fill="#4279ad"/>
<rect x="413.54" y="366.85" width="6.10" height="94.55" fill="#4279ad"/>
<rect x="421.41" y="376.61" width="6.10" height="84.79" fill="#4279ad"/>
<rect x="429.28" y="363.80" width="6.10" height="97.60" fill="#4279ad"/>
<rect x="437.15" y="386.74" width="6.10" height="74.66" fill="#4279ad"/>
<rect x="445.02" y="393.08" width="6.10" height="68.32" fill="#4279ad"/>
<rect x="452.89" y="404.79" width="6.10" height="56.61" fill="#4279ad"/>
<rect x="460.76" y="413.45" width="6.10" height="47.95" fill="#4279ad"/>
<rect x="468.63" y="424.80" width="6.10" height="36.60" fill="#4279ad"/>
<rect x="476.50" y="436.39" width="6.10" height="25.01" fill="#4279ad"/>
<rect x="484.37" y="418.46" width="6.10" height="42.94" fill="#4279ad"/>
<rect x="492.24" y="449.44" width="6.10" height="11.96" fill="#4279ad"/>
<rect x="500.11" y="451.64" width="6.10" height="9.76" fill="#4279ad"/>
<rect x="507.98" y="455.54" width="6.10" height="5.86" fill="#4279ad"/>
<rect x="515.85" y="457.62" width="6.10" height="3.78" fill="#4279ad"/>
<rect x="523.72" y="459.45" width="6.10" height="1.95" fill="#4279ad"/>
<rect x="531.59" y="458.96" width="6.10" height="2.44" fill="#4279ad"/>
<rect x="326.6" y="278.4" width="215.0" height="183.0" fill="none" stroke="#555" stroke-width=".8"/>
<path d="M326.6 461.4v2.6" stroke="#444" stroke-width=".7"/>
<text transform="translate(326.6 474.2) scale(.9 1)" class="tk" text-anchor="middle">20</text>
<path d="M362.4 461.4v2.6" stroke="#444" stroke-width=".7"/>
<text transform="translate(362.4 474.2) scale(.9 1)" class="tk" text-anchor="middle">25</text>
<path d="M398.3 461.4v2.6" stroke="#444" stroke-width=".7"/>
<text transform="translate(398.3 474.2) scale(.9 1)" class="tk" text-anchor="middle">30</text>
<path d="M434.1 461.4v2.6" stroke="#444" stroke-width=".7"/>
<text transform="translate(434.1 474.2) scale(.9 1)" class="tk" text-anchor="middle">35</text>
<path d="M469.9 461.4v2.6" stroke="#444" stroke-width=".7"/>
<text transform="translate(469.9 474.2) scale(.9 1)" class="tk" text-anchor="middle">40</text>
<path d="M505.8 461.4v2.6" stroke="#444" stroke-width=".7"/>
<text transform="translate(505.8 474.2) scale(.9 1)" class="tk" text-anchor="middle">45</text>
<path d="M541.6 461.4v2.6" stroke="#444" stroke-width=".7"/>
<text transform="translate(541.6 474.2) scale(.9 1)" class="tk" text-anchor="middle">50</text>
<path d="M326.6 461.4h-2.6" stroke="#444" stroke-width=".7"/>
<text transform="translate(322.4 465.1) scale(.9 1)" class="tk" text-anchor="end">0</text>
<path d="M326.6 437.0h-2.6" stroke="#444" stroke-width=".7"/>
<text transform="translate(322.4 440.7) scale(.9 1)" class="tk" text-anchor="end">2</text>
<path d="M326.6 412.6h-2.6" stroke="#444" stroke-width=".7"/>
<text transform="translate(322.4 416.3) scale(.9 1)" class="tk" text-anchor="end">4</text>
<path d="M326.6 388.2h-2.6" stroke="#444" stroke-width=".7"/>
<text transform="translate(322.4 391.9) scale(.9 1)" class="tk" text-anchor="end">6</text>
<path d="M326.6 363.8h-2.6" stroke="#444" stroke-width=".7"/>
<text transform="translate(322.4 367.5) scale(.9 1)" class="tk" text-anchor="end">8</text>
<path d="M326.6 339.4h-2.6" stroke="#444" stroke-width=".7"/>
<text transform="translate(322.4 343.1) scale(.9 1)" class="tk" text-anchor="end">10</text>
<path d="M326.6 315.0h-2.6" stroke="#444" stroke-width=".7"/>
<text transform="translate(322.4 318.7) scale(.9 1)" class="tk" text-anchor="end">12</text>
<path d="M326.6 290.6h-2.6" stroke="#444" stroke-width=".7"/>
<text transform="translate(322.4 294.3) scale(.9 1)" class="tk" text-anchor="end">14</text>
<text transform="translate(434.1 486.4) scale(.868 1)" class="al" text-anchor="middle">Flash drought duration (days)</text>
<text transform="translate(307.4 369.9) rotate(-90) scale(1 .89)" class="al" text-anchor="middle">Frequency (%)</text>
<rect x="334.55" y="713.06" width="5.90" height="0.49" fill="#4279ad"/>
<rect x="349.47" y="712.70" width="5.90" height="0.85" fill="#4279ad"/>
<rect x="356.93" y="712.70" width="5.90" height="0.85" fill="#4279ad"/>
<rect x="364.39" y="711.23" width="5.90" height="2.32" fill="#4279ad"/>
<rect x="371.85" y="710.62" width="5.90" height="2.93" fill="#4279ad"/>
<rect x="379.31" y="707.44" width="5.90" height="6.10" fill="#4279ad"/>
<rect x="386.77" y="700.36" width="5.90" height="13.19" fill="#4279ad"/>
<rect x="394.23" y="689.37" width="5.90" height="24.18" fill="#4279ad"/>
<rect x="401.69" y="670.20" width="5.90" height="43.35" fill="#4279ad"/>
<rect x="409.15" y="644.44" width="5.90" height="69.11" fill="#4279ad"/>
<rect x="416.61" y="612.57" width="5.90" height="100.98" fill="#4279ad"/>
<rect x="424.07" y="583.39" width="5.90" height="130.16" fill="#4279ad"/>
<rect x="431.53" y="565.08" width="5.90" height="148.47" fill="#4279ad"/>
<rect x="438.99" y="560.31" width="5.90" height="153.24" fill="#4279ad"/>
<rect x="446.45" y="576.92" width="5.90" height="136.63" fill="#4279ad"/>
<rect x="453.91" y="599.39" width="5.90" height="114.16" fill="#4279ad"/>
<rect x="461.37" y="626.13" width="5.90" height="87.42" fill="#4279ad"/>
<rect x="468.83" y="651.89" width="5.90" height="61.66" fill="#4279ad"/>
<rect x="476.29" y="675.82" width="5.90" height="37.73" fill="#4279ad"/>
<rect x="483.75" y="689.50" width="5.90" height="24.05" fill="#4279ad"/>
<rect x="491.21" y="701.34" width="5.90" height="12.21" fill="#4279ad"/>
<rect x="498.67" y="708.91" width="5.90" height="4.64" fill="#4279ad"/>
<rect x="506.13" y="711.72" width="5.90" height="1.83" fill="#4279ad"/>
<rect x="326.6" y="530.4" width="215.0" height="183.1" fill="none" stroke="#555" stroke-width=".8"/>
<path d="M326.6 713.55v2.6" stroke="#444" stroke-width=".7"/>
<text transform="translate(326.6 726.3) scale(.9 1)" class="tk" text-anchor="middle">10</text>
<path d="M362.4 713.55v2.6" stroke="#444" stroke-width=".7"/>
<text transform="translate(362.4 726.3) scale(.9 1)" class="tk" text-anchor="middle">15</text>
<path d="M398.3 713.55v2.6" stroke="#444" stroke-width=".7"/>
<text transform="translate(398.3 726.3) scale(.9 1)" class="tk" text-anchor="middle">20</text>
<path d="M434.1 713.55v2.6" stroke="#444" stroke-width=".7"/>
<text transform="translate(434.1 726.3) scale(.9 1)" class="tk" text-anchor="middle">25</text>
<path d="M469.9 713.55v2.6" stroke="#444" stroke-width=".7"/>
<text transform="translate(469.9 726.3) scale(.9 1)" class="tk" text-anchor="middle">30</text>
<path d="M505.8 713.55v2.6" stroke="#444" stroke-width=".7"/>
<text transform="translate(505.8 726.3) scale(.9 1)" class="tk" text-anchor="middle">35</text>
<path d="M541.6 713.55v2.6" stroke="#444" stroke-width=".7"/>
<text transform="translate(541.6 726.3) scale(.9 1)" class="tk" text-anchor="middle">40</text>
<path d="M326.6 713.5h-2.6" stroke="#444" stroke-width=".7"/>
<text transform="translate(322.4 717.2) scale(.9 1)" class="tk" text-anchor="end">0</text>
<path d="M326.6 689.1h-2.6" stroke="#444" stroke-width=".7"/>
<text transform="translate(322.4 692.8) scale(.9 1)" class="tk" text-anchor="end">2</text>
<path d="M326.6 664.7h-2.6" stroke="#444" stroke-width=".7"/>
<text transform="translate(322.4 668.4) scale(.9 1)" class="tk" text-anchor="end">4</text>
<path d="M326.6 640.3h-2.6" stroke="#444" stroke-width=".7"/>
<text transform="translate(322.4 644.0) scale(.9 1)" class="tk" text-anchor="end">6</text>
<path d="M326.6 615.9h-2.6" stroke="#444" stroke-width=".7"/>
<text transform="translate(322.4 619.6) scale(.9 1)" class="tk" text-anchor="end">8</text>
<path d="M326.6 591.4h-2.6" stroke="#444" stroke-width=".7"/>
<text transform="translate(322.4 595.1) scale(.9 1)" class="tk" text-anchor="end">10</text>
<path d="M326.6 567.0h-2.6" stroke="#444" stroke-width=".7"/>
<text transform="translate(322.4 570.7) scale(.9 1)" class="tk" text-anchor="end">12</text>
<path d="M326.6 542.6h-2.6" stroke="#444" stroke-width=".7"/>
<text transform="translate(322.4 546.3) scale(.9 1)" class="tk" text-anchor="end">14</text>
<text transform="translate(434.1 738.5) scale(.868 1)" class="al" text-anchor="middle">RI (percentile/week)</text>
<text transform="translate(307.4 622.0) rotate(-90) scale(1 .89)" class="al" text-anchor="middle">Frequency (%)</text>
<rect x="539.4" y="459.6" width="1.9" height="1.6" fill="#4279ad"/>
</svg></body></html>
